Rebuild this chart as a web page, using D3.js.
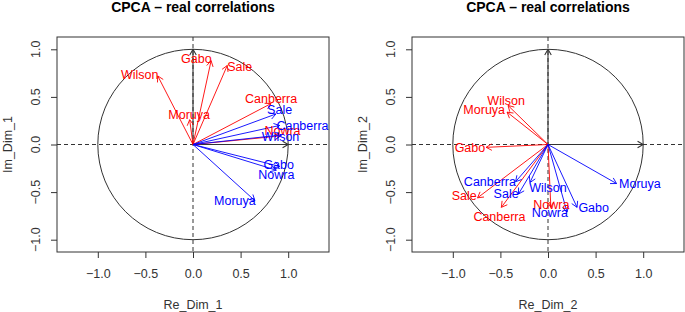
<!DOCTYPE html>
<html>
<head>
<meta charset="utf-8">
<script src="https://cdn.jsdelivr.net/npm/d3@7"></script>
<style>
  html, body { margin: 0; padding: 0; background: #fff; }
  svg { display: block; font-family: "Liberation Sans", Arial, Helvetica, sans-serif; }
</style>
</head>
<body>
<svg id="chart" width="685" height="312"></svg>
<script>
// ---- data ----
const stations = ["Gabo", "Sale", "Wilson", "Moruya", "Canberra", "Nowra"];
const tickValues = [-1.0, -0.5, 0.0, 0.5, 1.0];
const tickLabels = ["\u22121.0", "\u22120.5", "0.0", "0.5", "1.0"];

// Dimension 1 — red variables
const dim1RedRe = [0.19, 0.36, -0.37, -0.035, 0.82, 0.92];
const dim1RedIm = [0.88, 0.83, 0.72, 0.26, 0.43, 0.09];
const dim1RedLabRe = [0.035, 0.49, -0.56, -0.04, 0.82, 0.94];
const dim1RedLabIm = [0.905, 0.82, 0.73, 0.31, 0.48, 0.15];
// Dimension 1 — blue variables
const dim1BlueRe = [0.91, 0.87, 0.93, 0.65, 0.91, 0.875];
const dim1BlueIm = [-0.23, 0.32, 0.10, -0.59, 0.20, -0.27];
const dim1BlueLabRe = [0.90, 0.91, 0.92, 0.44, 1.15, 0.875];
const dim1BlueLabIm = [-0.21, 0.37, 0.08, -0.59, 0.20, -0.32];

// Dimension 2 — red variables
const dim2RedRe = [-0.65, -0.74, -0.42, -0.43, -0.49, 0.03];
const dim2RedIm = [-0.03, -0.56, 0.41, 0.34, -0.66, -0.66];
const dim2RedLabRe = [-0.82, -0.88, -0.44, -0.67, -0.51, 0.035];
const dim2RedLabIm = [-0.03, -0.54, 0.46, 0.37, -0.755, -0.63];
// Dimension 2 — blue variables
const dim2BlueRe = [0.305, -0.31, -0.19, 0.72, -0.34, 0.20];
const dim2BlueIm = [-0.66, -0.52, -0.40, -0.41, -0.39, -0.71];
const dim2BlueLabRe = [0.48, -0.44, 0.0, 0.965, -0.61, 0.02];
const dim2BlueLabIm = [-0.66, -0.52, -0.45, -0.41, -0.39, -0.72];

const panels = [
  { title: "CPCA \u2013 real correlations", xLab: "Re_Dim_1", yLab: "Im_Dim_1", left: 57, right: 329,
    red: [dim1RedRe, dim1RedIm, dim1RedLabRe, dim1RedLabIm],
    blue: [dim1BlueRe, dim1BlueIm, dim1BlueLabRe, dim1BlueLabIm] },
  { title: "CPCA \u2013 real correlations", xLab: "Re_Dim_2", yLab: "Im_Dim_2", left: 412, right: 684,
    red: [dim2RedRe, dim2RedIm, dim2RedLabRe, dim2RedLabIm],
    blue: [dim2BlueRe, dim2BlueIm, dim2BlueLabRe, dim2BlueLabIm] }
];

const svg = d3.select("#chart");
const plotTop = 37, plotBottom = 252;
const pxPerUnit = 95.2;

function arrow(g, x, y, x0, y0, x1, y1, color, width) {
  const X0 = x(x0), Y0 = y(y0), X1 = x(x1), Y1 = y(y1);
  g.append("line").attr("x1", X0).attr("y1", Y0).attr("x2", X1).attr("y2", Y1)
    .attr("stroke", color).attr("stroke-width", width);
  const ang = Math.atan2(Y1 - Y0, X1 - X0);
  const L = 6.5, a = Math.PI / 6;
  const p1 = [X1 - L * Math.cos(ang - a), Y1 - L * Math.sin(ang - a)];
  const p2 = [X1 - L * Math.cos(ang + a), Y1 - L * Math.sin(ang + a)];
  g.append("path").attr("d", `M${p1[0]},${p1[1]}L${X1},${Y1}L${p2[0]},${p2[1]}`)
    .attr("fill", "none").attr("stroke", color).attr("stroke-width", width);
}

panels.forEach(p => {
  const hx = (p.right - p.left) / 2 / pxPerUnit, hy = (plotBottom - plotTop) / 2 / pxPerUnit;
  const x = d3.scaleLinear().domain([-hx, hx]).range([p.left, p.right]);
  const y = d3.scaleLinear().domain([-hy, hy]).range([plotBottom, plotTop]);
  const g = svg.append("g");

  // title
  g.append("text").attr("x", x(0)).attr("y", 11.5).attr("text-anchor", "middle")
    .attr("font-size", 14).attr("font-weight", "bold").text(p.title);

  // axes
  const xAxis = d3.axisBottom(x).tickValues(tickValues).tickFormat((d, i) => tickLabels[i]).tickSize(6).tickPadding(11);
  const gx = g.append("g").attr("transform", `translate(0,${plotBottom})`).call(xAxis);
  gx.select(".domain").remove();
  gx.selectAll("line").attr("stroke", "#333");
  gx.selectAll("text").attr("font-size", 12.5).attr("fill", "#333").attr("font-family", "Liberation Sans, Arial, sans-serif");

  const yAxis = d3.axisLeft(y).tickValues(tickValues).tickFormat((d, i) => tickLabels[i]).tickSize(6);
  const gy = g.append("g").attr("transform", `translate(${p.left},0)`).call(yAxis);
  gy.select(".domain").remove();
  gy.selectAll("line").attr("stroke", "#333");
  gy.selectAll("text").remove();
  tickValues.forEach((v, i) => {
    g.append("text").attr("transform", `translate(${p.left - 21},${y(v)}) rotate(-90)`)
      .attr("text-anchor", "middle").attr("dy", "0.35em").attr("font-size", 12.5).attr("fill", "#333")
      .text(tickLabels[i]);
  });

  // axis labels
  g.append("text").attr("x", x(0)).attr("y", 305).attr("dy", "0.35em").attr("text-anchor", "middle")
    .attr("font-size", 12.5).attr("fill", "#333").text(p.xLab);
  g.append("text").attr("transform", `translate(${p.left - 49},${y(0)}) rotate(-90)`)
    .attr("text-anchor", "middle").attr("dy", "0.35em").attr("font-size", 12.5).attr("fill", "#333").text(p.yLab);

  const plot = g.append("g");

  // dashed reference lines
  plot.append("line").attr("x1", p.left).attr("x2", p.right).attr("y1", y(0)).attr("y2", y(0))
    .attr("stroke", "#333").attr("stroke-dasharray", "4,3");
  plot.append("line").attr("x1", x(0)).attr("x2", x(0)).attr("y1", plotTop).attr("y2", plotBottom)
    .attr("stroke", "#333").attr("stroke-dasharray", "4,3");

  // unit circle
  plot.append("circle").attr("cx", x(0)).attr("cy", y(0)).attr("r", x(1) - x(0))
    .attr("fill", "none").attr("stroke", "#333").attr("stroke-width", 1);

  // black unit arrows
  arrow(plot, x, y, 0, 0, 1, 0, "#333", 1.1);
  arrow(plot, x, y, 0, 0, 0, 1, "#333", 1.1);

  // variable arrows
  [[p.red, "#FF0000"], [p.blue, "#0000FF"]].forEach(([s, col]) => {
    stations.forEach((name, i) => {
      arrow(plot, x, y, 0, 0, s[0][i], s[1][i], col, 0.9);
    });
  });
  [[p.red, "#FF0000"], [p.blue, "#0000FF"]].forEach(([s, col]) => {
    stations.forEach((name, i) => {
      plot.append("text").attr("x", x(s[2][i])).attr("y", y(s[3][i])).attr("dy", "0.35em")
        .attr("text-anchor", "middle").attr("font-size", 12.5).attr("fill", col).text(name);
    });
  });

  // box
  g.append("rect").attr("x", p.left).attr("y", plotTop).attr("width", p.right - p.left).attr("height", plotBottom - plotTop)
    .attr("fill", "none").attr("stroke", "#333").attr("stroke-width", 1);
});
</script>
</body>
</html>
